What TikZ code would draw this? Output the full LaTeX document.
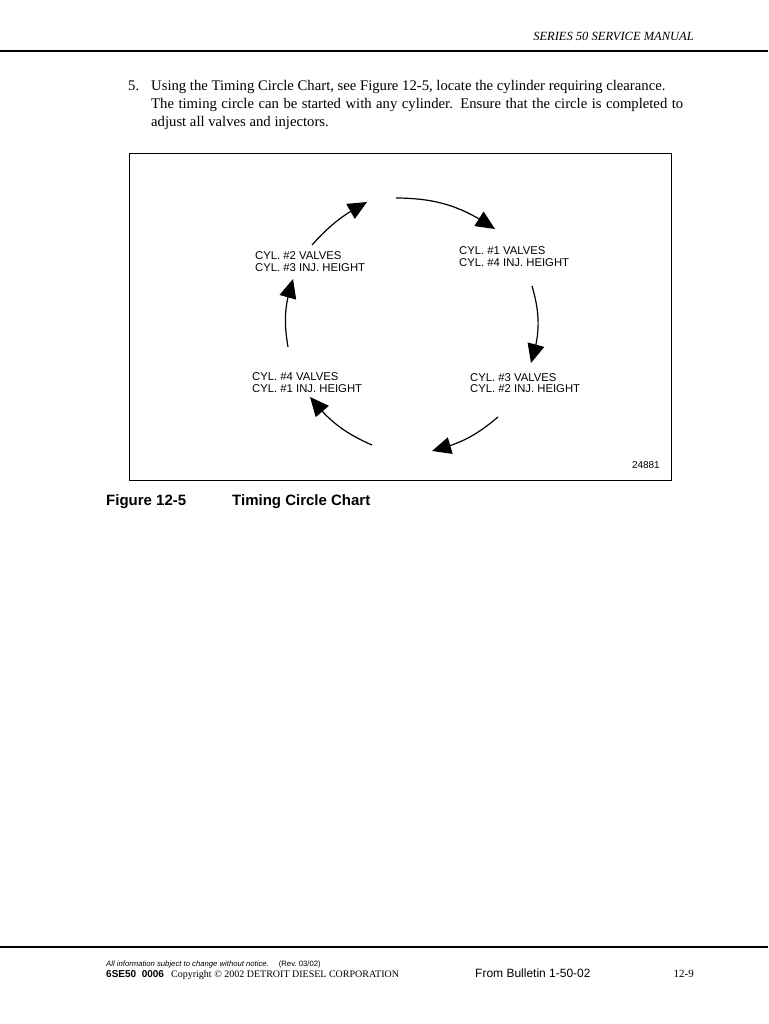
\documentclass[tikz,border=0pt]{standalone}
\usepackage{fontspec}
\setmainfont{Liberation Serif}
\setsansfont{Liberation Sans}
\usetikzlibrary{arrows.meta,bending}
\tikzset{
cyl/.style={anchor=base west,font=\sffamily\fontsize{11.3}{12}\selectfont,inner sep=0pt},
body/.style={anchor=base west,font=\fontsize{14.7}{17}\selectfont,inner sep=0pt},
flow/.style={line width=1.2pt,-{Triangle[length=19pt,width=17pt,flex]}},
rule/.style={line width=2pt}
}
\begin{document}
\begin{tikzpicture}[x=1pt,y=-1pt]
\useasboundingbox (0,0) rectangle (768,1024);
\fill[white] (0,0) rectangle (768,1024);
\node[anchor=base east,inner sep=0pt,font=\itshape\fontsize{12.5}{14}\selectfont] (head) at (694,41) {SERIES 50 SERVICE MANUAL};
\coordinate (hl) at (0,51);
\coordinate (hr) at (768,51);
\draw[rule] (hl)--(hr);
\node[body] (num) at (128,91) {5.};
\node[body] (la) at (151,91) {Using the Timing Circle Chart, see Figure 12-5, locate the cylinder requiring clearance.};
\node[body] (lb) at (151,109) {\makebox[532pt][s]{The timing circle can be started with any cylinder. Ensure that the circle is completed to}};
\node[body] (lc) at (151,127) {adjust all valves and injectors.};
\node[draw,line width=1pt,minimum width=542pt,minimum height=327pt,anchor=north west,inner sep=0pt] (frame) at (129,153) {};
\node[cyl] (a) at (459,254) {CYL. \#1 VALVES};
\node[cyl] (aa) at (459,266) {CYL. \#4 INJ. HEIGHT};
\node[cyl] (b) at (470,381) {CYL. \#3 VALVES};
\node[cyl] (bb) at (470,392) {CYL. \#2 INJ. HEIGHT};
\node[cyl] (c) at (252,380) {CYL. \#4 VALVES};
\node[cyl] (cc) at (252,392) {CYL. \#1 INJ. HEIGHT};
\node[cyl] (d) at (255,259) {CYL. \#2 VALVES};
\node[cyl] (dd) at (255,271) {CYL. \#3 INJ. HEIGHT};
\coordinate (s1) at (396,198);
\coordinate (t1) at (495,229);
\coordinate (s2) at (532,286);
\coordinate (t2) at (531,363);
\coordinate (s3) at (498,417);
\coordinate (t3) at (432,451);
\coordinate (s4) at (372,445);
\coordinate (t4) at (310,397);
\coordinate (s5) at (288,347);
\coordinate (t5) at (293,279);
\coordinate (s6) at (312,245);
\coordinate (t6) at (367,202);
\draw[flow] (s1) to[bend left=17] (t1);
\draw[flow] (s2) to[bend left=17] (t2);
\draw[flow] (s3) to[bend left=13] (t3);
\draw[flow] (s4) to[bend left=14] (t4);
\draw[flow] (s5) to[bend left=14] (t5);
\draw[flow] (s6) to[bend left=10] (t6);
\node[anchor=base east,inner sep=0pt,font=\sffamily\fontsize{10}{12}\selectfont] (num2) at (660,468) {24881};
\node[anchor=base west,inner sep=0pt,font=\sffamily\bfseries\fontsize{15}{17}\selectfont] (fig) at (106,505) {Figure 12-5};
\node[anchor=base west,inner sep=0pt,font=\sffamily\bfseries\fontsize{15}{17}\selectfont] (cap) at (232,505) {Timing Circle Chart};
\coordinate (fl) at (0,947);
\coordinate (fr) at (768,947);
\draw[rule] (fl)--(fr);
\node[anchor=base west,inner sep=0pt,font=\sffamily\itshape\fontsize{7.7}{9}\selectfont] (note) at (106,966) {All information subject to change without notice.\hspace{10pt}\upshape (Rev.\ 03/02)};
\node[anchor=base west,inner sep=0pt,font=\sffamily\bfseries\fontsize{10}{11}\selectfont] (code) at (106,977) {6SE50\ \ 0006};
\node[anchor=base west,inner sep=0pt,font=\fontsize{10}{12}\selectfont] (copy) at (171,977) {Copyright © 2002 DETROIT DIESEL CORPORATION};
\node[anchor=base west,inner sep=0pt,font=\sffamily\fontsize{12}{14}\selectfont] (bull) at (475,977) {From Bulletin 1-50-02};
\node[anchor=base east,inner sep=0pt,font=\fontsize{11}{13}\selectfont] (page) at (694,977) {12-9};
\end{tikzpicture}
\end{document}
